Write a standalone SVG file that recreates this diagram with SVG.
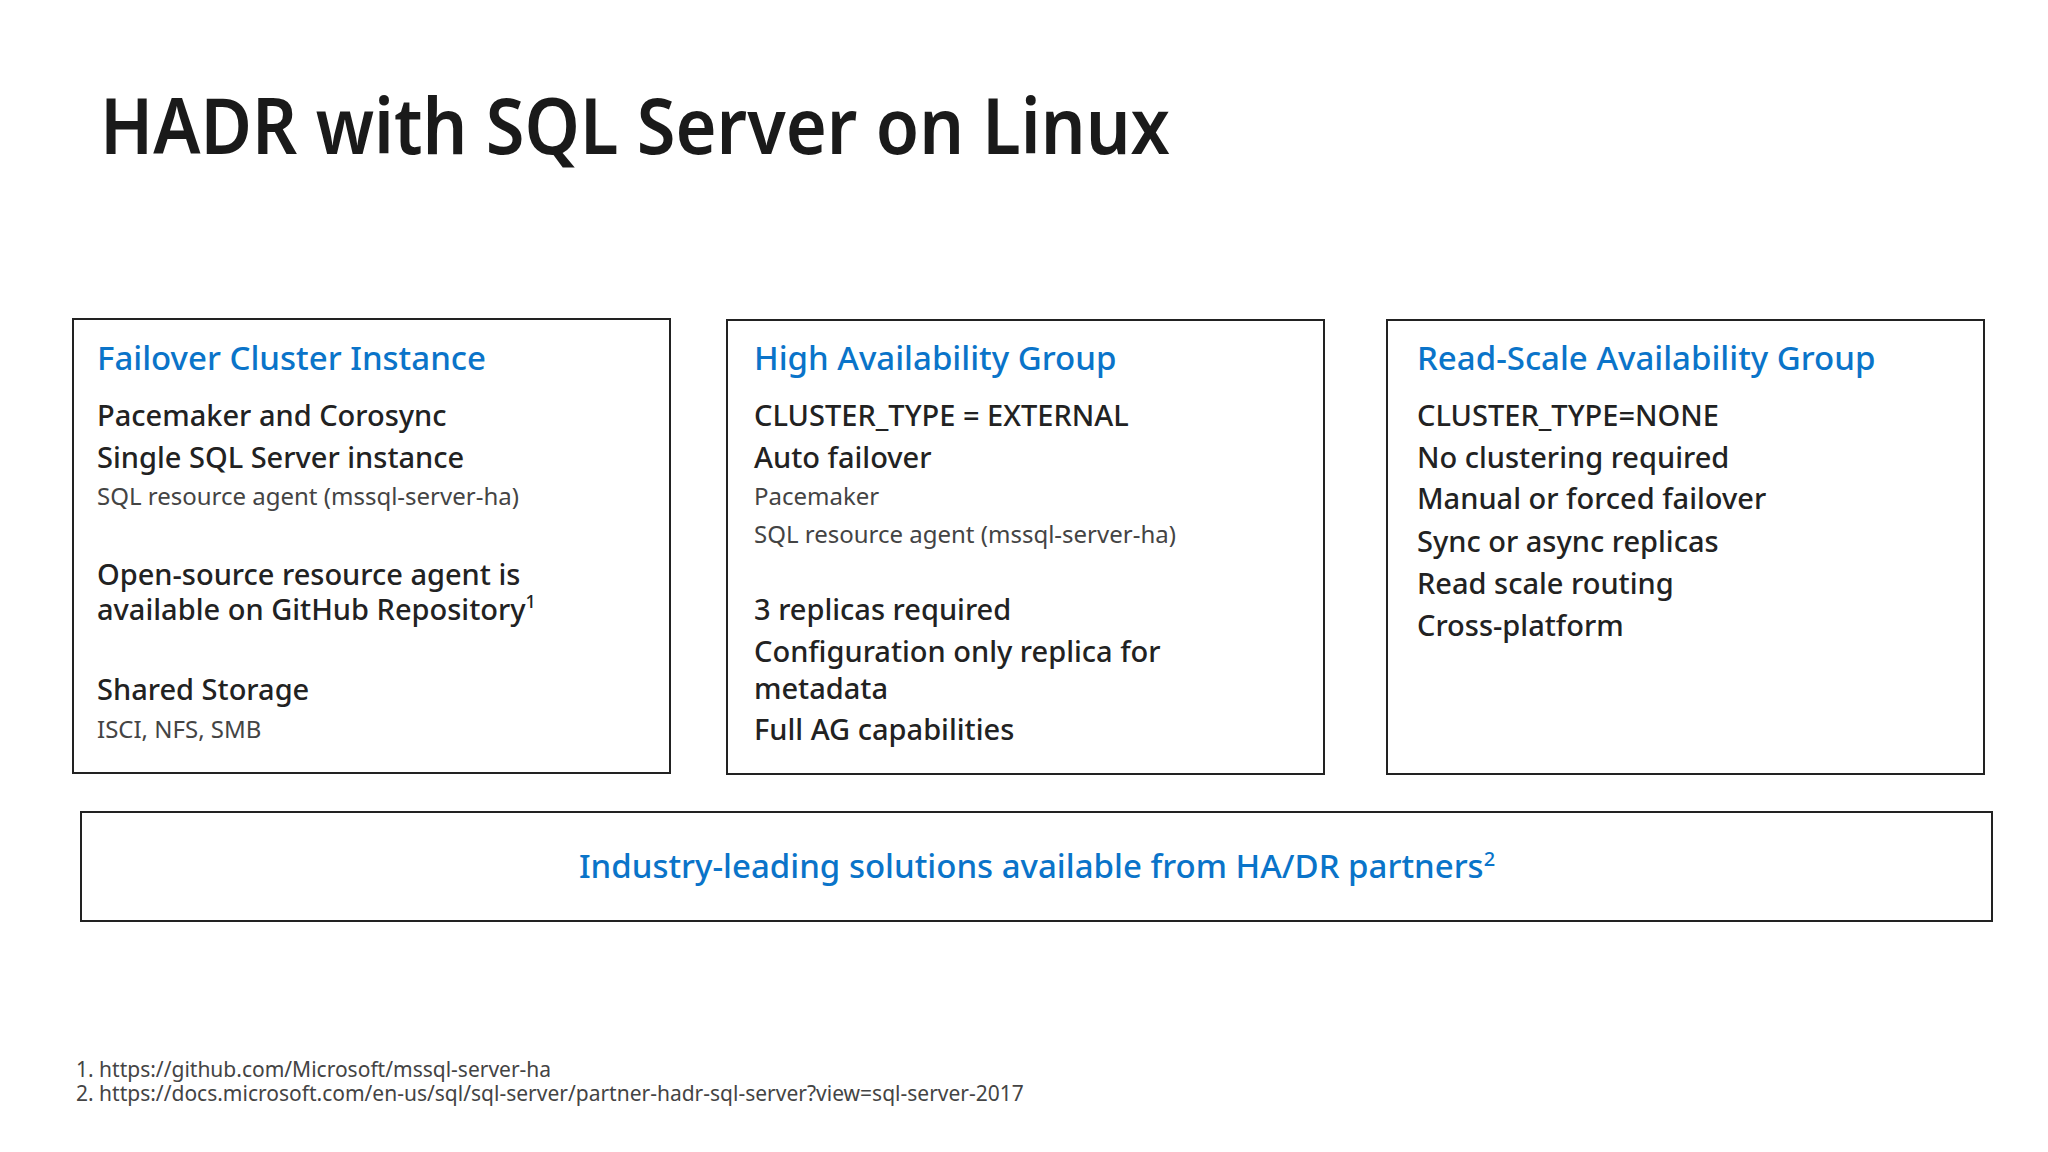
<svg xmlns="http://www.w3.org/2000/svg" width="2048" height="1152" viewBox="0 0 2048 1152">
<style>
text{font-family:"Noto Sans","Open Sans","Liberation Sans",sans-serif;fill:#222}
.box{fill:none;stroke:#222;stroke-width:2}
.h{fill:#0a74c9;font-size:33px;font-weight:500}
.b{font-size:29px;font-weight:500}
.s{font-size:24px;fill:#444}
.f{font-size:21px;fill:#444}
</style>
<rect width="2048" height="1152" fill="#fff"/>
<text x="100" y="154" font-size="78" font-weight="600" style="fill:#1a1a1a" textLength="1070" lengthAdjust="spacingAndGlyphs">HADR with SQL Server on Linux</text>
<g id="fci">
<rect class="box" x="73" y="319" width="597" height="454"/>
<text class="h" x="97" y="370">Failover Cluster Instance</text>
<text class="b" x="97" y="426">Pacemaker and Corosync</text>
<text class="b" x="97" y="468">Single SQL Server instance</text>
<text class="s" x="97" y="505">SQL resource agent (mssql-server-ha)</text>
<text class="b" x="97" y="585">Open-source resource agent is</text>
<text class="b" x="97" y="620">available on GitHub Repository<tspan font-size="18" dy="-12">1</tspan></text>
<text class="b" x="97" y="700">Shared Storage</text>
<text class="s" x="97" y="738">ISCI, NFS, SMB</text>
</g>
<g id="hag">
<rect class="box" x="727" y="320" width="597" height="454"/>
<text class="h" x="754" y="370">High Availability Group</text>
<text class="b" x="754" y="426">CLUSTER_TYPE = EXTERNAL</text>
<text class="b" x="754" y="468">Auto failover</text>
<text class="s" x="754" y="505">Pacemaker</text>
<text class="s" x="754" y="543">SQL resource agent (mssql-server-ha)</text>
<text class="b" x="754" y="620">3 replicas required</text>
<text class="b" x="754" y="662">Configuration only replica for</text>
<text class="b" x="754" y="699">metadata</text>
<text class="b" x="754" y="740">Full AG capabilities</text>
</g>
<g id="rsag">
<rect class="box" x="1387" y="320" width="597" height="454"/>
<text class="h" x="1417" y="370">Read-Scale Availability Group</text>
<text class="b" x="1417" y="426">CLUSTER_TYPE=NONE</text>
<text class="b" x="1417" y="468">No clustering required</text>
<text class="b" x="1417" y="509">Manual or forced failover</text>
<text class="b" x="1417" y="552">Sync or async replicas</text>
<text class="b" x="1417" y="594">Read scale routing</text>
<text class="b" x="1417" y="636">Cross-platform</text>
</g>
<g id="partners">
<rect class="box" x="81" y="812" width="1911" height="109"/>
<text class="h" x="1037" y="878" text-anchor="middle">Industry-leading solutions available from HA/DR partners<tspan font-size="20" dy="-12">2</tspan></text>
</g>
<g id="connectors"/>
<text class="f" x="76" y="1077">1. https://github.com/Microsoft/mssql-server-ha</text>
<text class="f" x="76" y="1101">2. https://docs.microsoft.com/en-us/sql/sql-server/partner-hadr-sql-server?view=sql-server-2017</text>
</svg>
